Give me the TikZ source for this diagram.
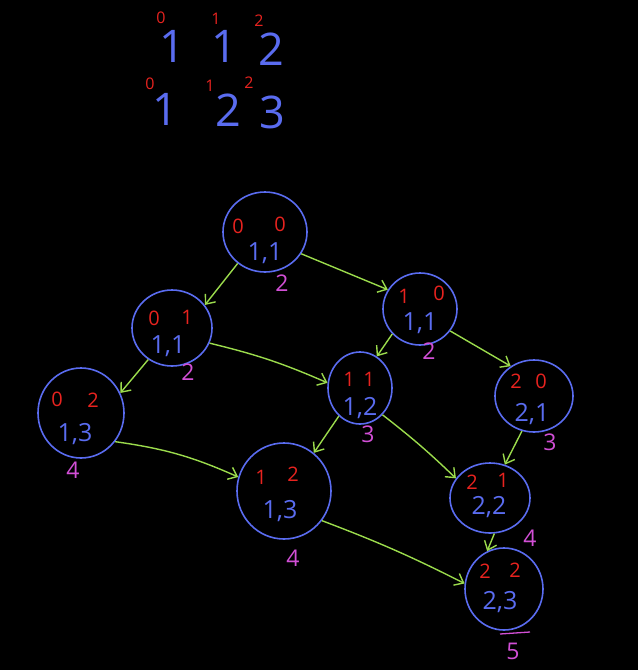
\documentclass[tikz,border=0pt]{standalone}
\usepackage{fontspec}
\setmainfont{Open Sans}
\usetikzlibrary{shapes.geometric,arrows.meta}
\definecolor{bl}{HTML}{5A6CF0}
\definecolor{rd}{HTML}{E8231F}
\definecolor{mg}{HTML}{D24FD6}
\definecolor{gr}{HTML}{9BDB4C}
\tikzset{
 st/.style={ellipse,draw=bl,line width=1.6pt,inner sep=0pt},
 rn/.style={text=rd,font=\fontsize{20}{20}\selectfont,inner sep=0pt},
 bn/.style={text=bl,font=\fontsize{25}{25}\selectfont,inner sep=0pt},
 cn/.style={text=mg,font=\fontsize{23}{23}\selectfont,inner sep=0pt},
 tb/.style={text=bl,font=\fontsize{45}{45}\selectfont,inner sep=0pt},
 tr/.style={text=rd,font=\fontsize{16}{16}\selectfont,inner sep=0pt},
 ar/.style={draw=gr,line width=1.4pt,-{Straight Barb[length=8pt,width=13pt,line width=1.4pt]}},
}
\begin{document}
\begin{tikzpicture}[x=1pt,y=-1pt]
\fill[black] (0,0) rectangle (638,670);
\useasboundingbox (0,0) rectangle (638,670);
% top table
\node[tb] (t11) at (172,46) {1};
\node[tb] (t12) at (224,46) {1};
\node[tb] (t13) at (271,49) {2};
\node[tr] (s11) at (161,18) {0};
\node[tr] (s12) at (216,19) {1};
\node[tr] (s13) at (259,21) {2};
\node[tb] (t21) at (165,109) {1};
\node[tb] (t22) at (228,110) {2};
\node[tb] (t23) at (272,112) {3};
\node[tr] (s21) at (150,84) {0};
\node[tr] (s22) at (210,86) {1};
\node[tr] (s23) at (249,83) {2};
% states
\node[st,minimum width=84pt,minimum height=80pt] (A) at (265,232) {};
\node[st,minimum width=80pt,minimum height=76pt] (B) at (172,328) {};
\node[st,minimum width=86pt,minimum height=90pt] (C) at (81,413) {};
\node[st,minimum width=74pt,minimum height=72pt] (D) at (420,309) {};
\node[st,minimum width=64pt,minimum height=72pt] (E) at (360,388) {};
\node[st,minimum width=78pt,minimum height=72pt] (F) at (534,396) {};
\node[st,minimum width=94pt,minimum height=96pt] (G) at (284,491) {};
\node[st,minimum width=80pt,minimum height=70pt] (H) at (490,498) {};
\node[st,minimum width=78pt,minimum height=82pt] (I) at (504,589) {};
% contents
\node[rn] (Ar1) at (238,226) {0}; \node[rn] (Ar2) at (280,224) {0};
\node[bn] (Ab) at (265,253) {1,1};
\node[rn] (Br1) at (154,318) {0}; \node[rn] (Br2) at (187,317) {1};
\node[bn] (Bb) at (168,346) {1,1};
\node[rn] (Cr1) at (57,399) {0}; \node[rn] (Cr2) at (93,400) {2};
\node[bn] (Cb) at (75,434) {1,3};
\node[rn] (Dr1) at (404,296) {1}; \node[rn] (Dr2) at (439,293) {0};
\node[bn] (Db) at (420,323) {1,1};
\node[rn] (Er1) at (349,379) {1}; \node[rn] (Er2) at (369,379) {1};
\node[bn] (Eb) at (360,408) {1,2};
\node[rn] (Fr1) at (516,381) {2}; \node[rn] (Fr2) at (541,381) {0};
\node[bn] (Fb) at (532,414) {2,1};
\node[rn] (Gr1) at (261,477) {1}; \node[rn] (Gr2) at (293,474) {2};
\node[bn] (Gb) at (280,511) {1,3};
\node[rn] (Hr1) at (472,482) {2}; \node[rn] (Hr2) at (503,480) {1};
\node[bn] (Hb) at (489,507) {2,2};
\node[rn] (Ir1) at (485,571) {2}; \node[rn] (Ir2) at (515,570) {2};
\node[bn] (Ib) at (500,602) {2,3};
% costs
\node[cn] (Ac) at (282,283) {2};
\node[cn] (Bc) at (188,372) {2};
\node[cn] (Cc) at (73,470) {4};
\node[cn] (Dc) at (429,351) {2};
\node[cn] (Ec) at (368,434) {3};
\node[cn] (Fc) at (550,442) {3};
\node[cn] (Gc) at (293,558) {4};
\node[cn] (Hc) at (530,538) {4};
\node[cn] (Ic) at (513,651) {5};
\coordinate (Ib1) at (500,634);
\coordinate (Ib2) at (530,632);
\draw[mg,line width=1.3pt] (Ib1) -- (Ib2);
% arrows
\draw[ar] (A.-131) -- (B.35);
\draw[ar] (A.-31) -- (D.149);
\draw[ar] (B.-127) -- (C.27);
\draw[ar] (B.-22) to[bend left=5] (E.171);
\draw[ar] (C.-40) to[bend left=8] (G.163);
\draw[ar] (D.-138) -- (E.62);
\draw[ar] (D.-36) -- (F.128);
\draw[ar] (E.-127) -- (G.52);
\draw[ar] (E.-50) to[bend left=3] (H.150);
\draw[ar] (F.-109) -- (H.66);
\draw[ar] (G.-38) to[bend left=3] (I.172);
\draw[ar] (H.-83) -- (I.114);
\end{tikzpicture}
\end{document}
